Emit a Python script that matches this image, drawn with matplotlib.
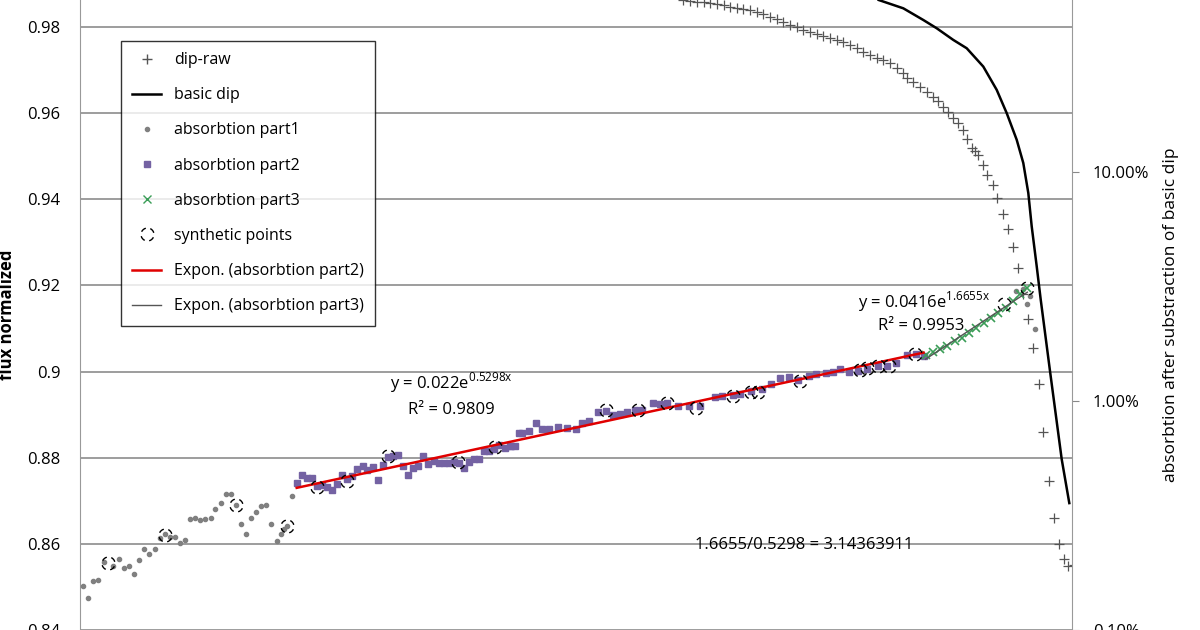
import numpy as np
import matplotlib
matplotlib.use("Agg")
import matplotlib.pyplot as plt
from matplotlib.path import Path
from matplotlib.lines import Line2D

plt.rcParams['font.family'] = ['Open Sans', 'DejaVu Sans']
plt.rcParams['mathtext.fontset'] = 'custom'
plt.rcParams['mathtext.rm'] = 'Open Sans'

# x in arbitrary time units; y values read as flux-equivalent positions
p1_x = [83.3,88.3,93.3,98.3,104,113.3,119.3,124,129.3,134,139.3,144.3,149.3,155,160,165,170,175.3,180,185.3,
        190,195,200,205.3,210.7,215.3,220.7,226,230.7,235.7,241.3,246,251,256,261,266,271.3,276.7,281.3,284,286.7,292,
        1016,1023,1030,1027,1035]
p1_y = [0.8503,0.8474,0.8513,0.8517,0.8559,0.8548,0.8565,0.8544,0.8548,0.8530,0.8562,0.8588,0.8576,0.8588,0.8613,
        0.8623,0.8616,0.8616,0.8602,0.8610,0.8658,0.8661,0.8656,0.8658,0.8661,0.8682,0.8695,0.8715,0.8715,0.8691,
        0.8645,0.8624,0.8661,0.8674,0.8688,0.8691,0.8647,0.8607,0.8624,0.8634,0.8641,0.8710,
        0.9186,0.9191,0.9175,0.9156,0.9098]

p2_x = [296.7,301.7,306.7,311.7,316.7,321.7,327.3,332.3,337.3,342.3,346.7,352.3,357.3,362.7,367.3,372.7,377.7,383.3,
        388.3,393.3,398.3,403.3,408.3,413.3,418.3,423.3,428.3,434,439,444,449.3,454.3,459.3,464.3,469.3,474.3,479.3,
        484.3,489.3,494.3,499.3,505,510,515,519.3,
        510.9,521.8,529.1,535.6,541.8,549.1,558.2,567.3,576.4,581.8,589.1,598.2,605.5,612.7,620,627.3,634.5,641.8,
        652.7,660,667.3,678.2,689.1,700,714.5,721.8,732.7,740,750.9,761.8,770.9,780,789.1,798.2,809.1,816.4,825.5,
        832.7,840,849.1,858.2,867.3,878.2,887.3,896.4,907.3,916.4,923.6]
p2_y = [0.8742,0.8759,0.8753,0.8752,0.8735,0.8736,0.8732,0.8726,0.8738,0.8761,0.8750,0.8758,0.8773,0.8780,0.8772,
        0.8778,0.8748,0.8784,0.8802,0.8803,0.8807,0.8780,0.8759,0.8776,0.8780,0.8804,0.8786,0.8792,0.8787,0.8787,
        0.8787,0.8789,0.8787,0.8777,0.8789,0.8797,0.8797,0.8816,0.8816,0.8821,0.8829,0.8822,0.8827,0.8827,0.8857,
        0.8827,0.8858,0.8862,0.8881,0.8867,0.8866,0.8871,0.8870,0.8866,0.8881,0.8885,0.8905,0.8908,0.8898,0.8901,
        0.8905,0.8910,0.8911,0.8928,0.8924,0.8926,0.8920,0.8919,0.8920,0.8940,0.8944,0.8945,0.8949,0.8954,0.8959,
        0.8971,0.8986,0.8988,0.8981,0.8990,0.8994,0.8996,0.8998,0.9006,0.8999,0.9002,0.9007,0.9012,0.9013,0.9021,
        0.9038,0.9040,0.9037]

p3_x = [925.5,932.7,940,947.3,954.5,961.8,969.1,976.4,983.6,990.9,998.2,1005.5,1012.7,1020,1027.3]
p3_y = [0.9038,0.9045,0.9053,0.9059,0.9071,0.9079,0.9090,0.9102,0.9113,0.9125,0.9136,0.9148,0.9163,0.9179,0.9194]

syn_x = [108.3,165,235.7,286.7,316.7,346.7,388.3,458.3,495,605.5,638.2,667.3,696.4,732.7,750.9,758.2,800,860,
         867.3,878.2,889.1,914.5,1003.6,1027.3]
syn_y = [0.8555,0.8621,0.8691,0.8641,0.8732,0.8746,0.8803,0.8789,0.8824,0.8911,0.8911,0.8926,0.8916,0.8943,
         0.8953,0.8953,0.8978,0.9004,0.9009,0.9013,0.9013,0.9040,0.9156,0.9194]

raw_x = [683.3,690,697,704,710,717,724,730,737,743,750,757,763,770,777,783,790,797,803,810,817,823,830,837,843,850,
         857,863,870,877,883,890,897,903,906.7,913,920,927,933.3,938,943.3,948,953.3,958,963.3,967,971.7,975,978.3,
         983.3,987.3,992.7,997.3,1003.3,1008.3,1013.3,1018.3,1023,1028.3,1033.3,1039,1043.3,1048.7,1054,1058.7,
         1063.7,1068.3,1074.3]
raw_y = [0.98626,0.98610,0.98590,0.98575,0.98563,0.98540,0.98510,0.98470,0.98440,0.98420,0.98394,0.98350,0.98300,
         0.98239,0.98180,0.98110,0.98046,0.97990,0.97940,0.97891,0.97840,0.97790,0.97738,0.97690,0.97640,0.97583,
         0.97520,0.97430,0.97351,0.97290,0.97230,0.97159,0.97050,0.96920,0.96811,0.96720,0.96616,0.96500,0.96384,
         0.96270,0.96153,0.96020,0.95884,0.95760,0.95613,0.95400,0.95189,0.95110,0.95034,0.94802,0.94570,0.94338,
         0.94030,0.93666,0.93312,0.92894,0.92408,0.91800,0.91210,0.90538,0.89703,0.88607,0.87455,0.86591,0.85995,
         0.85648,0.85492,0.85515]

dip_x = [878.7,903.3,923.3,936.7,953.3,966.7,983.3,996.7,1006.7,1016.7,1023.3,1028.3,1031.7,1036.7,1040.7,1050,1061.7,1069.3]
dip_y = [0.98626,0.98433,0.98162,0.97970,0.97699,0.97506,0.97080,0.96540,0.96000,0.95381,0.94841,0.94146,0.93372,
         0.92445,0.91673,0.90012,0.87965,0.86946]

right_ticks = [0.001, 0.01, 0.1]
right_labels = ["0.10%", "1.00%", "10.00%"]

fig = plt.figure(figsize=(12, 6.3), dpi=100)
ax = fig.add_axes([80/1200, 0.0, 992/1200, 1.0])
ax.set_xlim(80, 1072)
ax.set_ylim(0.84, 0.98626)
ax.set_yticks([0.84, 0.86, 0.88, 0.90, 0.92, 0.94, 0.96, 0.98])
ax.set_yticklabels(["0.84", "0.86", "0.88", "0.9", "0.92", "0.94", "0.96", "0.98"], fontsize=12)
ax.tick_params(axis='y', length=0, pad=14)
ax.set_xticks([])
ax.yaxis.grid(True, color='#8c8c8c', lw=1.2)
ax.set_axisbelow(True)
for s in ['top', 'bottom', 'right']:
    ax.spines[s].set_visible(False)
ax.spines['left'].set_color('#999999')
ax.set_ylabel("flux normalized", fontsize=12, fontweight='bold', labelpad=8)

ax2 = ax.twinx()
ax2.set_yscale('log')
ax2.set_ylim(10**-2.991, 10**-0.248)
ax2.set_yticks(right_ticks)
ax2.set_yticklabels(right_labels, fontsize=12)
ax2.minorticks_off()
ax2.tick_params(axis='y', length=5, color='#888888', pad=10)
for s in ['top', 'bottom', 'left']:
    ax2.spines[s].set_visible(False)
ax2.spines['right'].set_color('#999999')
ax2.set_ylabel("absorbtion after substraction of basic dip", fontsize=12.5, labelpad=10)

ax.plot(raw_x, raw_y, ls='none', marker='+', ms=7, mew=0.9, color='#555555', zorder=3)
ax.plot(dip_x, dip_y, color='black', lw=1.8, zorder=3)
ax.plot(p1_x, p1_y, ls='none', marker='o', ms=3, color='#808080', zorder=3)
ax.plot(p2_x, p2_y, ls='none', marker='s', ms=4.5, color='#7462a3', zorder=3)
ax.plot(p3_x, p3_y, ls='none', marker='x', ms=6, mew=1.2, color='#3a9d57', zorder=4)

arcs = [Path.arc(a, a + 50) for a in (15, 105, 195, 285)]
dash_circle = Path.make_compound_path(*arcs)
ax.plot(syn_x, syn_y, ls='none', marker=dash_circle, ms=9, mfc='none', mec='black', mew=1.0, zorder=5)

c2 = np.polyfit(p2_x, p2_y, 1)
fx2 = np.array([min(p2_x), max(p2_x)])
ax.plot(fx2, np.polyval(c2, fx2), color='#e00000', lw=1.8, zorder=4)
c3 = np.polyfit(p3_x, p3_y, 1)
fx3 = np.array([min(p3_x), max(p3_x)])
ax.plot(fx3, np.polyval(c3, fx3), color='#555555', lw=1.0, zorder=5)

fig.text(390/1200, 1 - 383/630, r"y = 0.022e$^{\mathrm{0.5298x}}$", fontsize=12, va='center')
fig.text(408/1200, 1 - 410/630, "R² = 0.9809", fontsize=12, va='center')
fig.text(858/1200, 1 - 302/630, r"y = 0.0416e$^{\mathrm{1.6655x}}$", fontsize=12, va='center')
fig.text(878/1200, 1 - 326/630, "R² = 0.9953", fontsize=12, va='center')
fig.text(695/1200, 1 - 545/630, "1.6655/0.5298 = 3.14363911", fontsize=12, va='center')

handles = [
    Line2D([], [], ls='none', marker='+', ms=7, color='#555555'),
    Line2D([], [], color='black', lw=1.8),
    Line2D([], [], ls='none', marker='o', ms=3, color='#808080'),
    Line2D([], [], ls='none', marker='s', ms=4.5, color='#7462a3'),
    Line2D([], [], ls='none', marker='x', ms=6, color='#3a9d57'),
    Line2D([], [], ls='none', marker=dash_circle, ms=9, mfc='none', mec='black'),
    Line2D([], [], color='#e00000', lw=1.8),
    Line2D([], [], color='#555555', lw=1.0),
]
labels = ["dip-raw", "basic dip", "absorbtion part1", "absorbtion part2", "absorbtion part3",
          "synthetic points", "Expon. (absorbtion part2)", "Expon. (absorbtion part3)"]
leg = ax.legend(handles, labels, loc='upper left', bbox_to_anchor=(33/992, 1 - 33/630),
                fontsize=11.5, frameon=True, fancybox=False, edgecolor='black', labelspacing=1.2,
                handlelength=1.8, borderpad=0.7)
leg.get_frame().set_linewidth(1.0)
leg.set_zorder(10)

fig.savefig("out.png", dpi=100)
